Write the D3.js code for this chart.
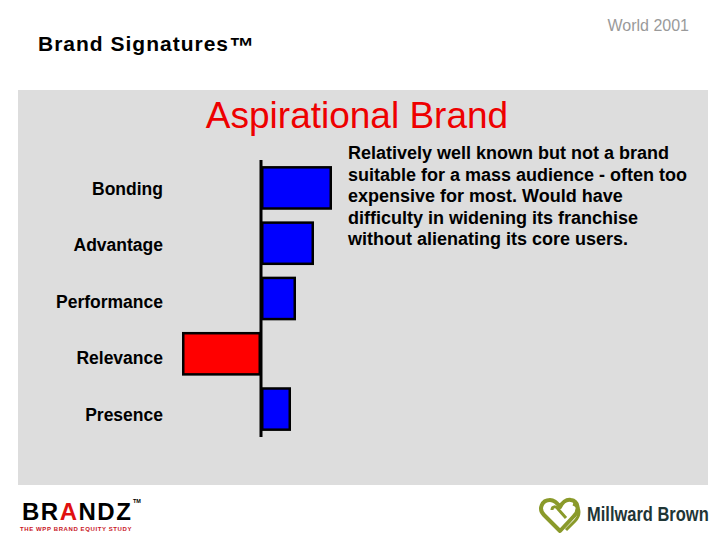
<!DOCTYPE html>
<html><head><meta charset="utf-8">
<script src="https://cdn.jsdelivr.net/npm/d3@7"></script>
<style>html,body{margin:0;padding:0;background:#fff;} svg{display:block;}</style>
</head><body>
<svg id="chart" width="720" height="540"></svg>
<script>
const categories = ["Bonding", "Advantage", "Performance", "Relevance", "Presence"];
const values = [71, 53, 35, -79, 30];
const descriptionLines = [
  "Relatively well known but not a brand",
  "suitable for a mass audience - often too",
  "expensive for most. Would have",
  "difficulty in widening its franchise",
  "without alienating its core users."
];

const svg = d3.select("#chart");
const font = "'Liberation Sans', Arial, Helvetica, sans-serif";

// header
svg.append("text").attr("x", 689).attr("y", 31).attr("text-anchor", "end")
  .attr("font-family", font).attr("font-size", 16).attr("fill", "#9a9a9a").text("World 2001");
const hdr = svg.append("text").attr("x", 38).attr("y", 51)
  .attr("font-family", font).attr("font-size", 21).attr("font-weight", "bold")
  .attr("letter-spacing", 1).attr("fill", "#000");
hdr.append("tspan").text("Brand Signatures");
hdr.append("tspan").attr("font-size", 25).attr("dy", 4).text("™");

// panel
svg.append("rect").attr("x", 18).attr("y", 90).attr("width", 690).attr("height", 395).attr("fill", "#dddddd");

svg.append("text").attr("x", 357).attr("y", 128).attr("text-anchor", "middle")
  .attr("font-family", font).attr("font-size", 37).attr("fill", "#ee0000").text("Aspirational Brand");

const desc = svg.append("text").attr("font-family", font).attr("font-size", 18)
  .attr("font-weight", "bold").attr("fill", "#000");
descriptionLines.forEach((l, i) => {
  desc.append("tspan").attr("x", 348).attr("y", 159 + i * 21.5).text(l);
});

// scales
const x = d3.scaleLinear().domain([-80, 80]).range([181, 341]);
const y = d3.scaleBand().domain(categories).range([160, 437]).paddingInner(0.21).paddingOuter(0.11);
const yLabel = d3.scalePoint().domain(categories).range([188, 414]);

svg.append("g").selectAll("rect.bar").data(categories).enter().append("rect")
  .attr("class", "bar")
  .attr("x", (d, i) => Math.min(x(0), x(values[i])) + 1.25)
  .attr("width", (d, i) => Math.abs(x(values[i]) - x(0)) - 2.5)
  .attr("y", d => y(d) + 1.25)
  .attr("height", y.bandwidth() - 2.5)
  .attr("fill", (d, i) => values[i] < 0 ? "#ff0000" : "#0000ff")
  .attr("stroke", "#000").attr("stroke-width", 2.5);

// axis line
svg.append("line").attr("x1", x(0)).attr("x2", x(0)).attr("y1", 160).attr("y2", 437)
  .attr("stroke", "#000").attr("stroke-width", 3);

// labels
const yAxis = d3.axisLeft(yLabel).tickSize(0).tickPadding(0);
const ya = svg.append("g").attr("transform", "translate(163,0)").call(yAxis);
ya.select(".domain").remove();
ya.selectAll("text").attr("font-family", font).attr("font-size", 17.5).attr("font-weight", "bold")
  .attr("fill", "#000").attr("dy", "0.35em");

// BRANDZ logo
const b = svg.append("text").attr("x", 22).attr("y", 520).attr("font-family", font)
  .attr("font-size", 24).attr("font-weight", "bold").attr("fill", "#000").attr("letter-spacing", 1.5);
b.append("tspan").text("BR");
b.append("tspan").attr("fill", "#e01010").text("A");
b.append("tspan").text("NDZ");
svg.append("text").attr("x", 133).attr("y", 503).attr("font-family", font).attr("font-size", 5.5)
  .attr("font-weight", "bold").attr("fill", "#000").text("TM");
svg.append("text").attr("x", 20).attr("y", 531).attr("font-family", font).attr("font-size", 6)
  .attr("font-weight", "bold").attr("fill", "#c8141e").attr("letter-spacing", 0.6).text("THE WPP BRAND EQUITY STUDY");

// Millward Brown logo
const icon = svg.append("g").attr("fill", "none").attr("stroke", "#8a9a2a").attr("stroke-width", 4).attr("stroke-linejoin", "round");
icon.append("path").attr("d", "M560,531 L544,515 C538,509 542,500 550,500 C555,500 558,504 560,507 C562,503 566,499 571,500 C578,501 580,510 574,516 Z");
icon.append("path").attr("d", "M566,530 L575,521 C581,515 580,506 573,504").attr("stroke-width", 3);
icon.append("path").attr("d", "M552,510 C552,506 556,506 558,509 L566,518").attr("stroke-width", 3);
svg.append("text").attr("transform", "translate(587,521) scale(0.845,1)")
  .attr("font-family", font).attr("font-size", 19.5)
  .attr("font-weight", "bold").attr("fill", "#1f3636").text("Millward Brown");
</script>
</body></html>
